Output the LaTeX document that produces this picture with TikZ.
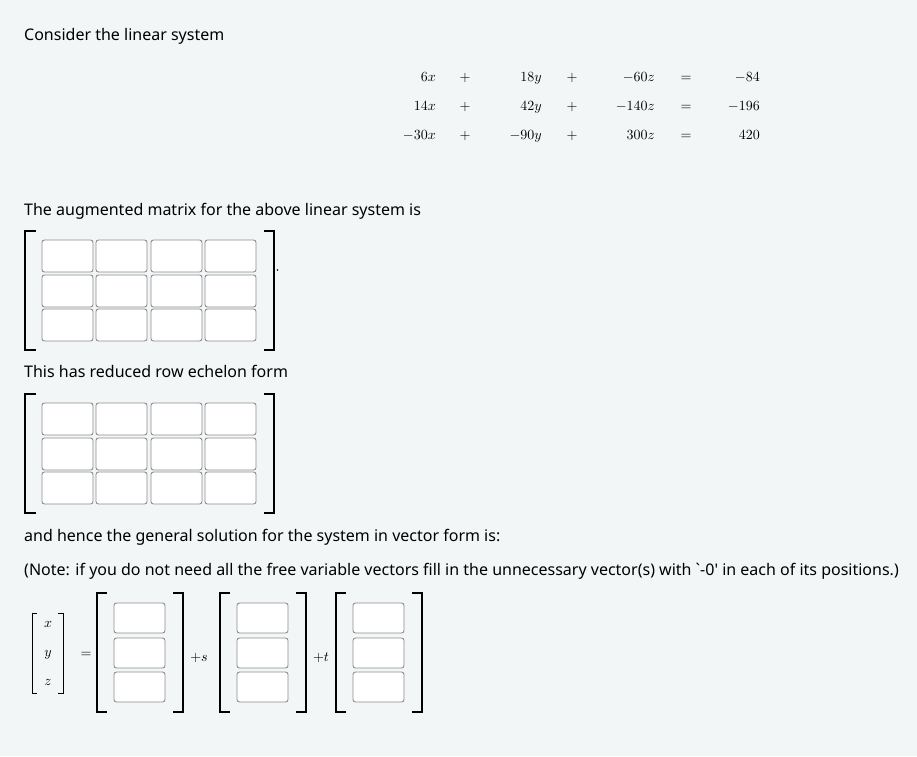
\documentclass[tikz,border=0pt]{standalone}
\usepackage{fontspec}
\setmainfont{Noto Sans}
\newcommand{\bm}[1]{\scalebox{1.4}{$#1$}}
\begin{document}
\begin{tikzpicture}[x=1pt,y=-1pt,
  txt/.style={anchor=base west,inner sep=0pt,font=\fontsize{16}{19}\selectfont},
  mth/.style={anchor=base east,inner sep=0pt},
  mc/.style={anchor=base,inner sep=0pt},
  cell/.style={draw=black!45,fill=white,rounded corners=2.5pt,line width=0.9pt},
  brk/.style={line width=2.2pt}]
\fill[fill={rgb,255:red,242;green,246;blue,247}] (0,0) rectangle (917,756);
\node[txt] (t1) at (24,40) {Consider the linear system};
% equations
\foreach \r/\y/\a/\b/\c/\d in {1/81/6x/18y/-60z/-84,2/110/14x/42y/-140z/-196,3/139/-30x/-90y/300z/420}{
  \node[mth] (a\r) at (436,\y) {\bm{\a}};
  \node[mc] (p\r) at (465,\y) {\bm{+}};
  \node[mth] (b\r) at (542,\y) {\bm{\b}};
  \node[mc] (q\r) at (572,\y) {\bm{+}};
  \node[mth] (c\r) at (655,\y) {\bm{\c}};
  \node[mc] (e\r) at (686,\y) {\bm{=}};
  \node[mth] (d\r) at (760,\y) {\bm{\d}};
}
\node[txt] (t2) at (24,215) {The augmented matrix for the above linear system is};
\node[txt] (t3) at (24,377) {This has reduced row echelon form};
\node[txt] (t4) at (24,541) {and hence the general solution for the system in vector form is:};
\node[txt] (t5) at (24,575) {(Note: if you do not need all the free variable vectors fill in the unnecessary vector(s) with \textasciigrave-0\textquotesingle{} in each of its positions.)};
% matrices
\foreach \m/\oy in {A/0,B/163}{
  \foreach \i/\cx in {1/42,2/96,3/151,4/205}{
    \foreach \j/\ry in {1/240,2/275,3/309}{
      \draw[cell] (\cx,\ry+\oy) rectangle ++(51,32);
    }
  }
  \draw[brk] (36,231+\oy) -- (25,231+\oy) -- (25,350+\oy) -- (36,350+\oy);
  \draw[brk] (264,231+\oy) -- (274,231+\oy) -- (274,350+\oy) -- (264,350+\oy);
}
\fill (277.5,270) circle (0.9);
% vector form
\draw[line width=1pt] (37,613) -- (32,613) -- (32,693) -- (37,693);
\draw[line width=1pt] (58,613) -- (63,613) -- (63,693) -- (58,693);
\node[mc] (vx) at (48,627) {\bm{x}};
\node[mc] (vy) at (48,656) {\bm{y}};
\node[mc] (vz) at (48,685) {\bm{z}};
\node[mc] (eq) at (86,657) {\bm{=}};
\foreach \lx in {97,220,336}{
  \draw[brk] (\lx+10,593) -- (\lx,593) -- (\lx,712) -- (\lx+10,712);
  \draw[brk] (\lx+76,593) -- (\lx+86,593) -- (\lx+86,712) -- (\lx+76,712);
  \foreach \ry in {603,638,672}{
    \draw[cell] (\lx+17,\ry) rectangle ++(51,30);
  }
}
\node[mc] (ps) at (199,661) {\bm{+s}};
\node[mc] (pt) at (321,661) {\bm{+t}};
\end{tikzpicture}
\end{document}
